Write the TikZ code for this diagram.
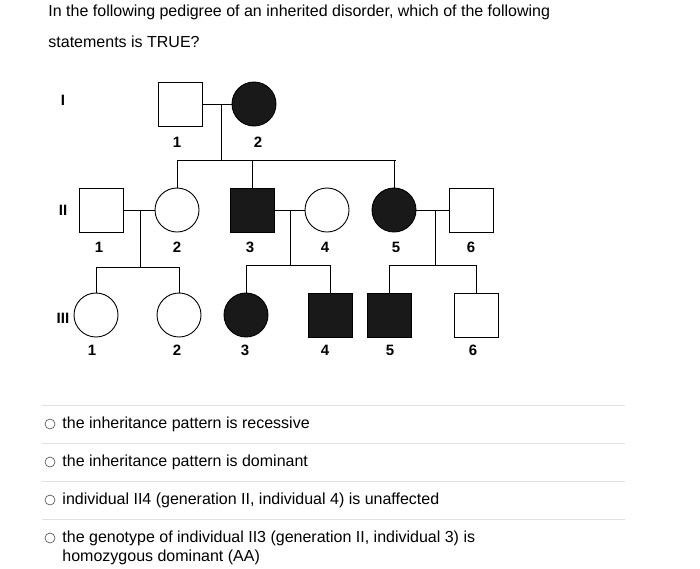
\documentclass[tikz,border=0pt]{standalone}
\usepackage{fontspec}
\setmainfont{Liberation Sans}
\begin{document}
\begin{tikzpicture}[x=1pt,y=-1pt,line width=0.9pt,
  m/.style={draw,minimum size=44pt,inner sep=0pt},
  f/.style={draw,circle,minimum size=44pt,inner sep=0pt},
  aff/.style={fill=black!90},
  lab/.style={font=\bfseries\fontsize{15}{15}\selectfont},
  txt/.style={anchor=west,font=\fontsize{16}{18}\selectfont,inner sep=0pt},
  opt/.style={draw=black!70,circle,minimum size=10pt,inner sep=0pt,line width=0.6pt},
  sep/.style={draw=black!12,line width=0.8pt}]
\useasboundingbox (0,0) rectangle (700,568);
\fill[white] (0,0) rectangle (700,568);
\node[txt] (t1) at (48,12) {In the following pedigree of an inherited disorder, which of the following};
\node[txt] (t2) at (48,42) {statements is TRUE?};
% generation labels
\node[lab] (gI) at (63,100) {I};
\node[lab] (gII) at (63,210) {II};
\node[lab] (gIII) at (63,318) {III};
% gen I
\node[m] (I1) at (180,104) {};
\node[f,aff] (I2) at (254,104) {};
\node[lab] at (177,142) {1};
\node[lab] at (258,142) {2};
\coordinate (mI) at (221,104);
\draw (I1) -- (I2);
% gen II
\node[m] (II1) at (101,210) {};
\node[f] (II2) at (177,210) {};
\node[m,aff] (II3) at (252,210) {};
\node[f] (II4) at (327,210) {};
\node[f,aff] (II5) at (394,210) {};
\node[m] (II6) at (471,210) {};
\foreach \x/\n in {99/1,177/2,250/3,325/4,396/5,471/6} \node[lab] at (\x,247) {\n};
\coordinate (sI) at (221,160);
\draw (mI) -- (sI);
\draw (177,160) -- (396,160);
\draw (177,160) -- (II2.north);
\draw (252,160) -- (II3.north);
\draw (394,160) -- (II5.north);
\draw (II1) -- (II2);
\draw (II3) -- (II4);
\draw (II5) -- (II6);
% gen III
\node[f] (III1) at (96,315) {};
\node[f] (III2) at (179,315) {};
\node[f,aff] (III3) at (246,315) {};
\node[m,aff] (III4) at (330,315) {};
\node[m,aff] (III5) at (389,315) {};
\node[m] (III6) at (476,315) {};
\foreach \x/\n in {92/1,177/2,245/3,325/4,390/5,473/6} \node[lab] at (\x,350) {\n};
\coordinate (c1) at (140,210); \coordinate (c2) at (290,210); \coordinate (c3) at (435,210);
\draw (c1) -- (140,267); \draw (96,267) -- (179,267);
\draw (96,267) -- (III1.north); \draw (179,267) -- (III2.north);
\draw (c2) -- (290,265); \draw (246,265) -- (330,265);
\draw (246,265) -- (III3.north); \draw (330,265) -- (III4.north);
\draw (c3) -- (435,265); \draw (389,265) -- (476,265);
\draw (389,265) -- (III5.north); \draw (476,265) -- (III6.north);
% options
\foreach \y in {405,443,481,519} \draw[sep] (42,\y) -- (625,\y);
\node[opt] (o1) at (50,424) {}; \node[txt] at (62,424) {the inheritance pattern is recessive};
\node[opt] (o2) at (50,462) {}; \node[txt] at (62,462) {the inheritance pattern is dominant};
\node[opt] (o3) at (50,500) {}; \node[txt] at (62,500) {individual II4 (generation II, individual 4) is unaffected};
\node[opt] (o4) at (50,538) {}; \node[txt] at (62,538) {the genotype of individual II3 (generation II, individual 3) is};
\node[txt] at (62,557) {homozygous dominant (AA)};
\end{tikzpicture}
\end{document}
